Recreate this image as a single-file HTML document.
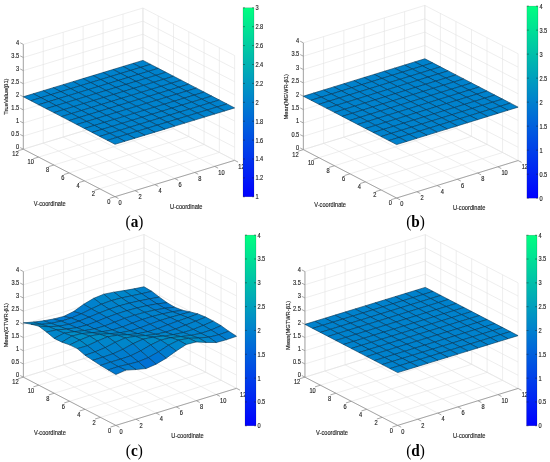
<!DOCTYPE html>
<html><head><meta charset="utf-8"><style>
html,body{margin:0;padding:0;background:#fff;}
svg{display:block;}
</style></head><body>
<svg width="550" height="462" viewBox="0 0 550 462">
<rect width="550" height="462" fill="#fff"/>
<path d="M115 196.7L23.32 149.18M23.32 149.18L23.32 44.38M134.94 190.64L43.26 143.12M43.26 143.12L43.26 38.32M154.88 184.58L63.2 137.06M63.2 137.06L63.2 32.26M174.82 178.52L83.14 131M83.14 131L83.14 26.2M194.76 172.46L103.08 124.94M103.08 124.94L103.08 20.14M214.7 166.4L123.02 118.88M123.02 118.88L123.02 14.08M234.64 160.34L142.96 112.82M142.96 112.82L142.96 8.02M115 196.7L234.64 160.34M234.64 160.34L234.64 55.54M99.72 188.78L219.36 152.42M219.36 152.42L219.36 47.62M84.44 180.86L204.08 144.5M204.08 144.5L204.08 39.7M69.16 172.94L188.8 136.58M188.8 136.58L188.8 31.78M53.88 165.02L173.52 128.66M173.52 128.66L173.52 23.86M38.6 157.1L158.24 120.74M158.24 120.74L158.24 15.94M23.32 149.18L142.96 112.82M142.96 112.82L142.96 8.02M23.32 149.18L142.96 112.82M142.96 112.82L234.64 160.34M23.32 136.08L142.96 99.72M142.96 99.72L234.64 147.24M23.32 122.98L142.96 86.62M142.96 86.62L234.64 134.14M23.32 109.88L142.96 73.52M142.96 73.52L234.64 121.04M23.32 96.78L142.96 60.42M142.96 60.42L234.64 107.94M23.32 83.68L142.96 47.32M142.96 47.32L234.64 94.84M23.32 70.58L142.96 34.22M142.96 34.22L234.64 81.74M23.32 57.48L142.96 21.12M142.96 21.12L234.64 68.64M23.32 44.38L142.96 8.02M142.96 8.02L234.64 55.54" stroke="#e3e3e3" stroke-width="0.6" fill="none"/>
<path d="M23.32 149.18L23.32 44.38M115 196.7L234.64 160.34M115 196.7L23.32 149.18M23.32 149.18L20.23 147.58M23.32 136.08L20.23 134.48M23.32 122.98L20.23 121.38M23.32 109.88L20.23 108.28M23.32 96.78L20.23 95.18M23.32 83.68L20.23 82.08M23.32 70.58L20.23 68.98M23.32 57.48L20.23 55.88M23.32 44.38L20.23 42.78M115 196.7L118.44 198.48M134.94 190.64L138.38 192.42M154.88 184.58L158.32 186.36M174.82 178.52L178.26 180.3M194.76 172.46L198.2 174.24M214.7 166.4L218.14 168.18M234.64 160.34L238.08 162.12M115 196.7L109.62 198.34M99.72 188.78L94.34 190.42M84.44 180.86L79.06 182.5M69.16 172.94L63.78 174.58M53.88 165.02L48.5 166.66M38.6 157.1L33.22 158.74M23.32 149.18L17.94 150.82" stroke="#8c8c8c" stroke-width="0.75" fill="none"/>
<g stroke="#023456" stroke-width="0.6" stroke-linejoin="round"><path d="M140.63 67.41L150.6 64.38L142.96 60.42L132.99 63.45 Z" fill="#0082cd"/><path d="M130.66 70.44L140.63 67.41L132.99 63.45L123.02 66.48 Z" fill="#0082cd"/><path d="M148.27 71.37L158.24 68.34L150.6 64.38L140.63 67.41 Z" fill="#0082cd"/><path d="M120.69 73.47L130.66 70.44L123.02 66.48L113.05 69.51 Z" fill="#0082cd"/><path d="M138.3 74.4L148.27 71.37L140.63 67.41L130.66 70.44 Z" fill="#0082cd"/><path d="M155.91 75.33L165.88 72.3L158.24 68.34L148.27 71.37 Z" fill="#0082cd"/><path d="M110.72 76.5L120.69 73.47L113.05 69.51L103.08 72.54 Z" fill="#0082cd"/><path d="M128.33 77.43L138.3 74.4L130.66 70.44L120.69 73.47 Z" fill="#0082cd"/><path d="M145.94 78.36L155.91 75.33L148.27 71.37L138.3 74.4 Z" fill="#0082cd"/><path d="M163.55 79.29L173.52 76.26L165.88 72.3L155.91 75.33 Z" fill="#0082cd"/><path d="M100.75 79.53L110.72 76.5L103.08 72.54L93.11 75.57 Z" fill="#0082cd"/><path d="M118.36 80.46L128.33 77.43L120.69 73.47L110.72 76.5 Z" fill="#0082cd"/><path d="M135.97 81.39L145.94 78.36L138.3 74.4L128.33 77.43 Z" fill="#0082cd"/><path d="M153.58 82.32L163.55 79.29L155.91 75.33L145.94 78.36 Z" fill="#0082cd"/><path d="M90.78 82.56L100.75 79.53L93.11 75.57L83.14 78.6 Z" fill="#0082cd"/><path d="M171.19 83.25L181.16 80.22L173.52 76.26L163.55 79.29 Z" fill="#0082cd"/><path d="M108.39 83.49L118.36 80.46L110.72 76.5L100.75 79.53 Z" fill="#0082cd"/><path d="M126 84.42L135.97 81.39L128.33 77.43L118.36 80.46 Z" fill="#0082cd"/><path d="M143.61 85.35L153.58 82.32L145.94 78.36L135.97 81.39 Z" fill="#0082cd"/><path d="M80.81 85.59L90.78 82.56L83.14 78.6L73.17 81.63 Z" fill="#0082cd"/><path d="M161.22 86.28L171.19 83.25L163.55 79.29L153.58 82.32 Z" fill="#0082cd"/><path d="M98.42 86.52L108.39 83.49L100.75 79.53L90.78 82.56 Z" fill="#0082cd"/><path d="M178.83 87.21L188.8 84.18L181.16 80.22L171.19 83.25 Z" fill="#0082cd"/><path d="M116.03 87.45L126 84.42L118.36 80.46L108.39 83.49 Z" fill="#0082cd"/><path d="M133.64 88.38L143.61 85.35L135.97 81.39L126 84.42 Z" fill="#0082cd"/><path d="M70.84 88.62L80.81 85.59L73.17 81.63L63.2 84.66 Z" fill="#0082cd"/><path d="M151.25 89.31L161.22 86.28L153.58 82.32L143.61 85.35 Z" fill="#0082cd"/><path d="M88.45 89.55L98.42 86.52L90.78 82.56L80.81 85.59 Z" fill="#0082cd"/><path d="M168.86 90.24L178.83 87.21L171.19 83.25L161.22 86.28 Z" fill="#0082cd"/><path d="M106.06 90.48L116.03 87.45L108.39 83.49L98.42 86.52 Z" fill="#0082cd"/><path d="M186.47 91.17L196.44 88.14L188.8 84.18L178.83 87.21 Z" fill="#0082cd"/><path d="M123.67 91.41L133.64 88.38L126 84.42L116.03 87.45 Z" fill="#0082cd"/><path d="M60.87 91.65L70.84 88.62L63.2 84.66L53.23 87.69 Z" fill="#0082cd"/><path d="M141.28 92.34L151.25 89.31L143.61 85.35L133.64 88.38 Z" fill="#0082cd"/><path d="M78.48 92.58L88.45 89.55L80.81 85.59L70.84 88.62 Z" fill="#0082cd"/><path d="M158.89 93.27L168.86 90.24L161.22 86.28L151.25 89.31 Z" fill="#0082cd"/><path d="M96.09 93.51L106.06 90.48L98.42 86.52L88.45 89.55 Z" fill="#0082cd"/><path d="M176.5 94.2L186.47 91.17L178.83 87.21L168.86 90.24 Z" fill="#0082cd"/><path d="M113.7 94.44L123.67 91.41L116.03 87.45L106.06 90.48 Z" fill="#0082cd"/><path d="M50.9 94.68L60.87 91.65L53.23 87.69L43.26 90.72 Z" fill="#0082cd"/><path d="M194.11 95.13L204.08 92.1L196.44 88.14L186.47 91.17 Z" fill="#0082cd"/><path d="M131.31 95.37L141.28 92.34L133.64 88.38L123.67 91.41 Z" fill="#0082cd"/><path d="M68.51 95.61L78.48 92.58L70.84 88.62L60.87 91.65 Z" fill="#0082cd"/><path d="M148.92 96.3L158.89 93.27L151.25 89.31L141.28 92.34 Z" fill="#0082cd"/><path d="M86.12 96.54L96.09 93.51L88.45 89.55L78.48 92.58 Z" fill="#0082cd"/><path d="M166.53 97.23L176.5 94.2L168.86 90.24L158.89 93.27 Z" fill="#0082cd"/><path d="M103.73 97.47L113.7 94.44L106.06 90.48L96.09 93.51 Z" fill="#0082cd"/><path d="M40.93 97.71L50.9 94.68L43.26 90.72L33.29 93.75 Z" fill="#0082cd"/><path d="M184.14 98.16L194.11 95.13L186.47 91.17L176.5 94.2 Z" fill="#0082cd"/><path d="M121.34 98.4L131.31 95.37L123.67 91.41L113.7 94.44 Z" fill="#0082cd"/><path d="M58.54 98.64L68.51 95.61L60.87 91.65L50.9 94.68 Z" fill="#0082cd"/><path d="M201.75 99.09L211.72 96.06L204.08 92.1L194.11 95.13 Z" fill="#0082cd"/><path d="M138.95 99.33L148.92 96.3L141.28 92.34L131.31 95.37 Z" fill="#0082cd"/><path d="M76.15 99.57L86.12 96.54L78.48 92.58L68.51 95.61 Z" fill="#0082cd"/><path d="M156.56 100.26L166.53 97.23L158.89 93.27L148.92 96.3 Z" fill="#0082cd"/><path d="M93.76 100.5L103.73 97.47L96.09 93.51L86.12 96.54 Z" fill="#0082cd"/><path d="M30.96 100.74L40.93 97.71L33.29 93.75L23.32 96.78 Z" fill="#0082cd"/><path d="M174.17 101.19L184.14 98.16L176.5 94.2L166.53 97.23 Z" fill="#0082cd"/><path d="M111.37 101.43L121.34 98.4L113.7 94.44L103.73 97.47 Z" fill="#0082cd"/><path d="M48.57 101.67L58.54 98.64L50.9 94.68L40.93 97.71 Z" fill="#0082cd"/><path d="M191.78 102.12L201.75 99.09L194.11 95.13L184.14 98.16 Z" fill="#0082cd"/><path d="M128.98 102.36L138.95 99.33L131.31 95.37L121.34 98.4 Z" fill="#0082cd"/><path d="M66.18 102.6L76.15 99.57L68.51 95.61L58.54 98.64 Z" fill="#0082cd"/><path d="M209.39 103.05L219.36 100.02L211.72 96.06L201.75 99.09 Z" fill="#0082cd"/><path d="M146.59 103.29L156.56 100.26L148.92 96.3L138.95 99.33 Z" fill="#0082cd"/><path d="M83.79 103.53L93.76 100.5L86.12 96.54L76.15 99.57 Z" fill="#0082cd"/><path d="M164.2 104.22L174.17 101.19L166.53 97.23L156.56 100.26 Z" fill="#0082cd"/><path d="M101.4 104.46L111.37 101.43L103.73 97.47L93.76 100.5 Z" fill="#0082cd"/><path d="M38.6 104.7L48.57 101.67L40.93 97.71L30.96 100.74 Z" fill="#0082cd"/><path d="M181.81 105.15L191.78 102.12L184.14 98.16L174.17 101.19 Z" fill="#0082cd"/><path d="M119.01 105.39L128.98 102.36L121.34 98.4L111.37 101.43 Z" fill="#0082cd"/><path d="M56.21 105.63L66.18 102.6L58.54 98.64L48.57 101.67 Z" fill="#0082cd"/><path d="M199.42 106.08L209.39 103.05L201.75 99.09L191.78 102.12 Z" fill="#0082cd"/><path d="M136.62 106.32L146.59 103.29L138.95 99.33L128.98 102.36 Z" fill="#0082cd"/><path d="M73.82 106.56L83.79 103.53L76.15 99.57L66.18 102.6 Z" fill="#0082cd"/><path d="M217.03 107.01L227 103.98L219.36 100.02L209.39 103.05 Z" fill="#0082cd"/><path d="M154.23 107.25L164.2 104.22L156.56 100.26L146.59 103.29 Z" fill="#0082cd"/><path d="M91.43 107.49L101.4 104.46L93.76 100.5L83.79 103.53 Z" fill="#0082cd"/><path d="M171.84 108.18L181.81 105.15L174.17 101.19L164.2 104.22 Z" fill="#0082cd"/><path d="M109.04 108.42L119.01 105.39L111.37 101.43L101.4 104.46 Z" fill="#0082cd"/><path d="M46.24 108.66L56.21 105.63L48.57 101.67L38.6 104.7 Z" fill="#0082cd"/><path d="M189.45 109.11L199.42 106.08L191.78 102.12L181.81 105.15 Z" fill="#0082cd"/><path d="M126.65 109.35L136.62 106.32L128.98 102.36L119.01 105.39 Z" fill="#0082cd"/><path d="M63.85 109.59L73.82 106.56L66.18 102.6L56.21 105.63 Z" fill="#0082cd"/><path d="M207.06 110.04L217.03 107.01L209.39 103.05L199.42 106.08 Z" fill="#0082cd"/><path d="M144.26 110.28L154.23 107.25L146.59 103.29L136.62 106.32 Z" fill="#0082cd"/><path d="M81.46 110.52L91.43 107.49L83.79 103.53L73.82 106.56 Z" fill="#0082cd"/><path d="M224.67 110.97L234.64 107.94L227 103.98L217.03 107.01 Z" fill="#0082cd"/><path d="M161.87 111.21L171.84 108.18L164.2 104.22L154.23 107.25 Z" fill="#0082cd"/><path d="M99.07 111.45L109.04 108.42L101.4 104.46L91.43 107.49 Z" fill="#0082cd"/><path d="M179.48 112.14L189.45 109.11L181.81 105.15L171.84 108.18 Z" fill="#0082cd"/><path d="M116.68 112.38L126.65 109.35L119.01 105.39L109.04 108.42 Z" fill="#0082cd"/><path d="M53.88 112.62L63.85 109.59L56.21 105.63L46.24 108.66 Z" fill="#0082cd"/><path d="M197.09 113.07L207.06 110.04L199.42 106.08L189.45 109.11 Z" fill="#0082cd"/><path d="M134.29 113.31L144.26 110.28L136.62 106.32L126.65 109.35 Z" fill="#0082cd"/><path d="M71.49 113.55L81.46 110.52L73.82 106.56L63.85 109.59 Z" fill="#0082cd"/><path d="M214.7 114L224.67 110.97L217.03 107.01L207.06 110.04 Z" fill="#0082cd"/><path d="M151.9 114.24L161.87 111.21L154.23 107.25L144.26 110.28 Z" fill="#0082cd"/><path d="M89.1 114.48L99.07 111.45L91.43 107.49L81.46 110.52 Z" fill="#0082cd"/><path d="M169.51 115.17L179.48 112.14L171.84 108.18L161.87 111.21 Z" fill="#0082cd"/><path d="M106.71 115.41L116.68 112.38L109.04 108.42L99.07 111.45 Z" fill="#0082cd"/><path d="M187.12 116.1L197.09 113.07L189.45 109.11L179.48 112.14 Z" fill="#0082cd"/><path d="M124.32 116.34L134.29 113.31L126.65 109.35L116.68 112.38 Z" fill="#0082cd"/><path d="M61.52 116.58L71.49 113.55L63.85 109.59L53.88 112.62 Z" fill="#0082cd"/><path d="M204.73 117.03L214.7 114L207.06 110.04L197.09 113.07 Z" fill="#0082cd"/><path d="M141.93 117.27L151.9 114.24L144.26 110.28L134.29 113.31 Z" fill="#0082cd"/><path d="M79.13 117.51L89.1 114.48L81.46 110.52L71.49 113.55 Z" fill="#0082cd"/><path d="M159.54 118.2L169.51 115.17L161.87 111.21L151.9 114.24 Z" fill="#0082cd"/><path d="M96.74 118.44L106.71 115.41L99.07 111.45L89.1 114.48 Z" fill="#0082cd"/><path d="M177.15 119.13L187.12 116.1L179.48 112.14L169.51 115.17 Z" fill="#0082cd"/><path d="M114.35 119.37L124.32 116.34L116.68 112.38L106.71 115.41 Z" fill="#0082cd"/><path d="M194.76 120.06L204.73 117.03L197.09 113.07L187.12 116.1 Z" fill="#0082cd"/><path d="M131.96 120.3L141.93 117.27L134.29 113.31L124.32 116.34 Z" fill="#0082cd"/><path d="M69.16 120.54L79.13 117.51L71.49 113.55L61.52 116.58 Z" fill="#0082cd"/><path d="M149.57 121.23L159.54 118.2L151.9 114.24L141.93 117.27 Z" fill="#0082cd"/><path d="M86.77 121.47L96.74 118.44L89.1 114.48L79.13 117.51 Z" fill="#0082cd"/><path d="M167.18 122.16L177.15 119.13L169.51 115.17L159.54 118.2 Z" fill="#0082cd"/><path d="M104.38 122.4L114.35 119.37L106.71 115.41L96.74 118.44 Z" fill="#0082cd"/><path d="M184.79 123.09L194.76 120.06L187.12 116.1L177.15 119.13 Z" fill="#0082cd"/><path d="M121.99 123.33L131.96 120.3L124.32 116.34L114.35 119.37 Z" fill="#0082cd"/><path d="M139.6 124.26L149.57 121.23L141.93 117.27L131.96 120.3 Z" fill="#0082cd"/><path d="M76.8 124.5L86.77 121.47L79.13 117.51L69.16 120.54 Z" fill="#0082cd"/><path d="M157.21 125.19L167.18 122.16L159.54 118.2L149.57 121.23 Z" fill="#0082cd"/><path d="M94.41 125.43L104.38 122.4L96.74 118.44L86.77 121.47 Z" fill="#0082cd"/><path d="M174.82 126.12L184.79 123.09L177.15 119.13L167.18 122.16 Z" fill="#0082cd"/><path d="M112.02 126.36L121.99 123.33L114.35 119.37L104.38 122.4 Z" fill="#0082cd"/><path d="M129.63 127.29L139.6 124.26L131.96 120.3L121.99 123.33 Z" fill="#0082cd"/><path d="M147.24 128.22L157.21 125.19L149.57 121.23L139.6 124.26 Z" fill="#0082cd"/><path d="M84.44 128.46L94.41 125.43L86.77 121.47L76.8 124.5 Z" fill="#0082cd"/><path d="M164.85 129.15L174.82 126.12L167.18 122.16L157.21 125.19 Z" fill="#0082cd"/><path d="M102.05 129.39L112.02 126.36L104.38 122.4L94.41 125.43 Z" fill="#0082cd"/><path d="M119.66 130.32L129.63 127.29L121.99 123.33L112.02 126.36 Z" fill="#0082cd"/><path d="M137.27 131.25L147.24 128.22L139.6 124.26L129.63 127.29 Z" fill="#0082cd"/><path d="M154.88 132.18L164.85 129.15L157.21 125.19L147.24 128.22 Z" fill="#0082cd"/><path d="M92.08 132.42L102.05 129.39L94.41 125.43L84.44 128.46 Z" fill="#0082cd"/><path d="M109.69 133.35L119.66 130.32L112.02 126.36L102.05 129.39 Z" fill="#0082cd"/><path d="M127.3 134.28L137.27 131.25L129.63 127.29L119.66 130.32 Z" fill="#0082cd"/><path d="M144.91 135.21L154.88 132.18L147.24 128.22L137.27 131.25 Z" fill="#0082cd"/><path d="M99.72 136.38L109.69 133.35L102.05 129.39L92.08 132.42 Z" fill="#0082cd"/><path d="M117.33 137.31L127.3 134.28L119.66 130.32L109.69 133.35 Z" fill="#0082cd"/><path d="M134.94 138.24L144.91 135.21L137.27 131.25L127.3 134.28 Z" fill="#0082cd"/><path d="M107.36 140.34L117.33 137.31L109.69 133.35L99.72 136.38 Z" fill="#0082cd"/><path d="M124.97 141.27L134.94 138.24L127.3 134.28L117.33 137.31 Z" fill="#0082cd"/><path d="M115 144.3L124.97 141.27L117.33 137.31L107.36 140.34 Z" fill="#0082cd"/></g>
<g font-family='"Liberation Sans", Arial, sans-serif' font-size="6.3" fill="#262626" stroke="#262626" stroke-width="0.15"><text transform="translate(19.22 149.48) scale(0.9 1)" text-anchor="end">0</text><text transform="translate(19.22 136.38) scale(0.9 1)" text-anchor="end">0.5</text><text transform="translate(19.22 123.28) scale(0.9 1)" text-anchor="end">1</text><text transform="translate(19.22 110.18) scale(0.9 1)" text-anchor="end">1.5</text><text transform="translate(19.22 97.08) scale(0.9 1)" text-anchor="end">2</text><text transform="translate(19.22 83.98) scale(0.9 1)" text-anchor="end">2.5</text><text transform="translate(19.22 70.88) scale(0.9 1)" text-anchor="end">3</text><text transform="translate(19.22 57.78) scale(0.9 1)" text-anchor="end">3.5</text><text transform="translate(19.22 44.68) scale(0.9 1)" text-anchor="end">4</text><text transform="translate(118.6 205) scale(0.9 1)">0</text><text transform="translate(138.54 198.94) scale(0.9 1)">2</text><text transform="translate(158.48 192.88) scale(0.9 1)">4</text><text transform="translate(178.42 186.82) scale(0.9 1)">6</text><text transform="translate(198.36 180.76) scale(0.9 1)">8</text><text transform="translate(218.3 174.7) scale(0.9 1)">10</text><text transform="translate(238.24 168.64) scale(0.9 1)">12</text><text transform="translate(110.3 204) scale(0.9 1)" text-anchor="end">0</text><text transform="translate(95.02 196.08) scale(0.9 1)" text-anchor="end">2</text><text transform="translate(79.74 188.16) scale(0.9 1)" text-anchor="end">4</text><text transform="translate(64.46 180.24) scale(0.9 1)" text-anchor="end">6</text><text transform="translate(49.18 172.32) scale(0.9 1)" text-anchor="end">8</text><text transform="translate(33.9 164.4) scale(0.9 1)" text-anchor="end">10</text><text transform="translate(18.62 156.48) scale(0.9 1)" text-anchor="end">12</text><text transform="translate(49.75 205.6) scale(0.9 1)" text-anchor="middle">V-coordinate</text><text transform="translate(186.3 208.75) scale(0.9 1)" text-anchor="middle">U-coordinate</text><text transform="translate(7.9 96.6) rotate(-90)" font-size="5.75" text-anchor="middle">TrueValue(β1)</text></g>
<defs><linearGradient id="g139823481912304" x1="0" y1="1" x2="0" y2="0"><stop offset="0" stop-color="#0000ff"/><stop offset="0.1" stop-color="#001af7"/><stop offset="0.2" stop-color="#0033ee"/><stop offset="0.3" stop-color="#004ce5"/><stop offset="0.4" stop-color="#0066da"/><stop offset="0.5" stop-color="#0080ce"/><stop offset="0.6" stop-color="#0099c1"/><stop offset="0.7" stop-color="#00b2b2"/><stop offset="0.8" stop-color="#00cca2"/><stop offset="0.9" stop-color="#00e691"/><stop offset="1" stop-color="#00ff80"/></linearGradient></defs>
<rect x="243" y="7.8" width="11" height="189" fill="url(#g139823481912304)" stroke="#000" stroke-opacity="0.25" stroke-width="0.5"/>
<path d="M243 196.8h2M254 196.8h-2M243 177.9h2M254 177.9h-2M243 159h2M254 159h-2M243 140.1h2M254 140.1h-2M243 121.2h2M254 121.2h-2M243 102.3h2M254 102.3h-2M243 83.4h2M254 83.4h-2M243 64.5h2M254 64.5h-2M243 45.6h2M254 45.6h-2M243 26.7h2M254 26.7h-2M243 7.8h2M254 7.8h-2" stroke="#1a1a1a" stroke-width="0.55" fill="none" opacity="0.75"/>
<g font-family='"Liberation Sans", Arial, sans-serif' font-size="6.3" fill="#262626" stroke="#262626" stroke-width="0.15"><text transform="translate(255.4 199.2) scale(0.9 1)">1</text><text transform="translate(255.4 180.3) scale(0.9 1)">1.2</text><text transform="translate(255.4 161.4) scale(0.9 1)">1.4</text><text transform="translate(255.4 142.5) scale(0.9 1)">1.6</text><text transform="translate(255.4 123.6) scale(0.9 1)">1.8</text><text transform="translate(255.4 104.7) scale(0.9 1)">2</text><text transform="translate(255.4 85.8) scale(0.9 1)">2.2</text><text transform="translate(255.4 66.9) scale(0.9 1)">2.4</text><text transform="translate(255.4 48) scale(0.9 1)">2.6</text><text transform="translate(255.4 29.1) scale(0.9 1)">2.8</text><text transform="translate(255.4 10.2) scale(0.9 1)">3</text></g>
<text transform="translate(134.5 227.4) scale(1.02 1.07)" font-family='"Liberation Serif", serif' font-size="15" fill="#000" text-anchor="middle">(<tspan font-weight="bold">a</tspan>)</text>
<path d="M396.6 198L303.36 149.64M303.36 149.64L303.36 42.84M416.85 191.76L323.61 143.4M323.61 143.4L323.61 36.6M437.1 185.52L343.86 137.16M343.86 137.16L343.86 30.36M457.35 179.28L364.11 130.92M364.11 130.92L364.11 24.12M477.6 173.04L384.36 124.68M384.36 124.68L384.36 17.88M497.85 166.8L404.61 118.44M404.61 118.44L404.61 11.64M518.1 160.56L424.86 112.2M424.86 112.2L424.86 5.4M396.6 198L518.1 160.56M518.1 160.56L518.1 53.76M381.06 189.94L502.56 152.5M502.56 152.5L502.56 45.7M365.52 181.88L487.02 144.44M487.02 144.44L487.02 37.64M349.98 173.82L471.48 136.38M471.48 136.38L471.48 29.58M334.44 165.76L455.94 128.32M455.94 128.32L455.94 21.52M318.9 157.7L440.4 120.26M440.4 120.26L440.4 13.46M303.36 149.64L424.86 112.2M424.86 112.2L424.86 5.4M303.36 149.64L424.86 112.2M424.86 112.2L518.1 160.56M303.36 136.29L424.86 98.85M424.86 98.85L518.1 147.21M303.36 122.94L424.86 85.5M424.86 85.5L518.1 133.86M303.36 109.59L424.86 72.15M424.86 72.15L518.1 120.51M303.36 96.24L424.86 58.8M424.86 58.8L518.1 107.16M303.36 82.89L424.86 45.45M424.86 45.45L518.1 93.81M303.36 69.54L424.86 32.1M424.86 32.1L518.1 80.46M303.36 56.19L424.86 18.75M424.86 18.75L518.1 67.11M303.36 42.84L424.86 5.4M424.86 5.4L518.1 53.76" stroke="#e3e3e3" stroke-width="0.6" fill="none"/>
<path d="M303.36 149.64L303.36 42.84M396.6 198L518.1 160.56M396.6 198L303.36 149.64M303.36 149.64L300.21 148.01M303.36 136.29L300.21 134.66M303.36 122.94L300.21 121.31M303.36 109.59L300.21 107.96M303.36 96.24L300.21 94.61M303.36 82.89L300.21 81.26M303.36 69.54L300.21 67.91M303.36 56.19L300.21 54.56M303.36 42.84L300.21 41.21M396.6 198L400.1 199.81M416.85 191.76L420.35 193.57M437.1 185.52L440.6 187.33M457.35 179.28L460.85 181.09M477.6 173.04L481.1 174.85M497.85 166.8L501.35 168.61M518.1 160.56L521.6 162.37M396.6 198L391.13 199.68M381.06 189.94L375.59 191.62M365.52 181.88L360.05 183.56M349.98 173.82L344.51 175.5M334.44 165.76L328.97 167.44M318.9 157.7L313.43 159.38M303.36 149.64L297.89 151.32" stroke="#8c8c8c" stroke-width="0.75" fill="none"/>
<g stroke="#023456" stroke-width="0.6" stroke-linejoin="round"><path d="M422.5 65.95L432.63 62.83L424.86 58.8L414.74 61.92 Z" fill="#0082cd"/><path d="M412.38 69.07L422.5 65.95L414.74 61.92L404.61 65.04 Z" fill="#0082cd"/><path d="M430.28 69.98L440.4 66.86L432.63 62.83L422.5 65.95 Z" fill="#0082cd"/><path d="M402.25 72.19L412.38 69.07L404.61 65.04L394.49 68.16 Z" fill="#0082cd"/><path d="M420.15 73.1L430.28 69.98L422.5 65.95L412.38 69.07 Z" fill="#0082cd"/><path d="M438.05 74.01L448.17 70.89L440.4 66.86L430.28 69.98 Z" fill="#0082cd"/><path d="M392.13 75.31L402.25 72.19L394.49 68.16L384.36 71.28 Z" fill="#0082cd"/><path d="M410.03 76.22L420.15 73.1L412.38 69.07L402.25 72.19 Z" fill="#0082cd"/><path d="M427.92 77.13L438.05 74.01L430.28 69.98L420.15 73.1 Z" fill="#0082cd"/><path d="M445.82 78.04L455.94 74.92L448.17 70.89L438.05 74.01 Z" fill="#0082cd"/><path d="M382 78.43L392.13 75.31L384.36 71.28L374.24 74.4 Z" fill="#0082cd"/><path d="M399.9 79.34L410.03 76.22L402.25 72.19L392.13 75.31 Z" fill="#0082cd"/><path d="M417.8 80.25L427.92 77.13L420.15 73.1L410.03 76.22 Z" fill="#0082cd"/><path d="M435.69 81.16L445.82 78.04L438.05 74.01L427.92 77.13 Z" fill="#0082cd"/><path d="M371.88 81.55L382 78.43L374.24 74.4L364.11 77.52 Z" fill="#0082cd"/><path d="M453.59 82.07L463.71 78.95L455.94 74.92L445.82 78.04 Z" fill="#0082cd"/><path d="M389.78 82.46L399.9 79.34L392.13 75.31L382 78.43 Z" fill="#0082cd"/><path d="M407.67 83.37L417.8 80.25L410.03 76.22L399.9 79.34 Z" fill="#0082cd"/><path d="M425.57 84.28L435.69 81.16L427.92 77.13L417.8 80.25 Z" fill="#0082cd"/><path d="M361.75 84.67L371.88 81.55L364.11 77.52L353.99 80.64 Z" fill="#0082cd"/><path d="M443.46 85.19L453.59 82.07L445.82 78.04L435.69 81.16 Z" fill="#0082cd"/><path d="M379.65 85.58L389.78 82.46L382 78.43L371.88 81.55 Z" fill="#0082cd"/><path d="M461.36 86.1L471.48 82.98L463.71 78.95L453.59 82.07 Z" fill="#0082cd"/><path d="M397.55 86.49L407.67 83.37L399.9 79.34L389.78 82.46 Z" fill="#0082cd"/><path d="M415.44 87.4L425.57 84.28L417.8 80.25L407.67 83.37 Z" fill="#0082cd"/><path d="M351.63 87.79L361.75 84.67L353.99 80.64L343.86 83.76 Z" fill="#0082cd"/><path d="M433.34 88.31L443.46 85.19L435.69 81.16L425.57 84.28 Z" fill="#0082cd"/><path d="M369.53 88.7L379.65 85.58L371.88 81.55L361.75 84.67 Z" fill="#0082cd"/><path d="M451.23 89.22L461.36 86.1L453.59 82.07L443.46 85.19 Z" fill="#0082cd"/><path d="M387.42 89.61L397.55 86.49L389.78 82.46L379.65 85.58 Z" fill="#0082cd"/><path d="M469.12 90.13L479.25 87.01L471.48 82.98L461.36 86.1 Z" fill="#0082cd"/><path d="M405.32 90.52L415.44 87.4L407.67 83.37L397.55 86.49 Z" fill="#0082cd"/><path d="M341.5 90.91L351.63 87.79L343.86 83.76L333.74 86.88 Z" fill="#0082cd"/><path d="M423.21 91.43L433.34 88.31L425.57 84.28L415.44 87.4 Z" fill="#0082cd"/><path d="M359.4 91.82L369.53 88.7L361.75 84.67L351.63 87.79 Z" fill="#0082cd"/><path d="M441.11 92.34L451.23 89.22L443.46 85.19L433.34 88.31 Z" fill="#0082cd"/><path d="M377.3 92.73L387.42 89.61L379.65 85.58L369.53 88.7 Z" fill="#0082cd"/><path d="M459 93.25L469.12 90.13L461.36 86.1L451.23 89.22 Z" fill="#0082cd"/><path d="M395.19 93.64L405.32 90.52L397.55 86.49L387.42 89.61 Z" fill="#0082cd"/><path d="M331.38 94.03L341.5 90.91L333.74 86.88L323.61 90 Z" fill="#0082cd"/><path d="M476.9 94.16L487.02 91.04L479.25 87.01L469.12 90.13 Z" fill="#0082cd"/><path d="M413.09 94.55L423.21 91.43L415.44 87.4L405.32 90.52 Z" fill="#0082cd"/><path d="M349.28 94.94L359.4 91.82L351.63 87.79L341.5 90.91 Z" fill="#0082cd"/><path d="M430.98 95.46L441.11 92.34L433.34 88.31L423.21 91.43 Z" fill="#0082cd"/><path d="M367.17 95.85L377.3 92.73L369.53 88.7L359.4 91.82 Z" fill="#0082cd"/><path d="M448.88 96.37L459 93.25L451.23 89.22L441.11 92.34 Z" fill="#0082cd"/><path d="M385.07 96.76L395.19 93.64L387.42 89.61L377.3 92.73 Z" fill="#0082cd"/><path d="M321.25 97.15L331.38 94.03L323.61 90L313.49 93.12 Z" fill="#0082cd"/><path d="M466.77 97.28L476.9 94.16L469.12 90.13L459 93.25 Z" fill="#0082cd"/><path d="M402.96 97.67L413.09 94.55L405.32 90.52L395.19 93.64 Z" fill="#0082cd"/><path d="M339.15 98.06L349.28 94.94L341.5 90.91L331.38 94.03 Z" fill="#0082cd"/><path d="M484.67 98.19L494.79 95.07L487.02 91.04L476.9 94.16 Z" fill="#0082cd"/><path d="M420.86 98.58L430.98 95.46L423.21 91.43L413.09 94.55 Z" fill="#0082cd"/><path d="M357.05 98.97L367.17 95.85L359.4 91.82L349.28 94.94 Z" fill="#0082cd"/><path d="M438.75 99.49L448.88 96.37L441.11 92.34L430.98 95.46 Z" fill="#0082cd"/><path d="M374.94 99.88L385.07 96.76L377.3 92.73L367.17 95.85 Z" fill="#0082cd"/><path d="M311.13 100.27L321.25 97.15L313.49 93.12L303.36 96.24 Z" fill="#0082cd"/><path d="M456.65 100.4L466.77 97.28L459 93.25L448.88 96.37 Z" fill="#0082cd"/><path d="M392.84 100.79L402.96 97.67L395.19 93.64L385.07 96.76 Z" fill="#0082cd"/><path d="M329.03 101.18L339.15 98.06L331.38 94.03L321.25 97.15 Z" fill="#0082cd"/><path d="M474.54 101.31L484.67 98.19L476.9 94.16L466.77 97.28 Z" fill="#0082cd"/><path d="M410.73 101.7L420.86 98.58L413.09 94.55L402.96 97.67 Z" fill="#0082cd"/><path d="M346.92 102.09L357.05 98.97L349.28 94.94L339.15 98.06 Z" fill="#0082cd"/><path d="M492.44 102.22L502.56 99.1L494.79 95.07L484.67 98.19 Z" fill="#0082cd"/><path d="M428.62 102.61L438.75 99.49L430.98 95.46L420.86 98.58 Z" fill="#0082cd"/><path d="M364.82 103L374.94 99.88L367.17 95.85L357.05 98.97 Z" fill="#0082cd"/><path d="M446.52 103.52L456.65 100.4L448.88 96.37L438.75 99.49 Z" fill="#0082cd"/><path d="M382.71 103.91L392.84 100.79L385.07 96.76L374.94 99.88 Z" fill="#0082cd"/><path d="M318.9 104.3L329.03 101.18L321.25 97.15L311.13 100.27 Z" fill="#0082cd"/><path d="M464.42 104.43L474.54 101.31L466.77 97.28L456.65 100.4 Z" fill="#0082cd"/><path d="M400.61 104.82L410.73 101.7L402.96 97.67L392.84 100.79 Z" fill="#0082cd"/><path d="M336.8 105.21L346.92 102.09L339.15 98.06L329.03 101.18 Z" fill="#0082cd"/><path d="M482.31 105.34L492.44 102.22L484.67 98.19L474.54 101.31 Z" fill="#0082cd"/><path d="M418.5 105.73L428.62 102.61L420.86 98.58L410.73 101.7 Z" fill="#0082cd"/><path d="M354.69 106.12L364.82 103L357.05 98.97L346.92 102.09 Z" fill="#0082cd"/><path d="M500.21 106.25L510.33 103.13L502.56 99.1L492.44 102.22 Z" fill="#0082cd"/><path d="M436.4 106.64L446.52 103.52L438.75 99.49L428.62 102.61 Z" fill="#0082cd"/><path d="M372.59 107.03L382.71 103.91L374.94 99.88L364.82 103 Z" fill="#0082cd"/><path d="M454.29 107.55L464.42 104.43L456.65 100.4L446.52 103.52 Z" fill="#0082cd"/><path d="M390.48 107.94L400.61 104.82L392.84 100.79L382.71 103.91 Z" fill="#0082cd"/><path d="M326.67 108.33L336.8 105.21L329.03 101.18L318.9 104.3 Z" fill="#0082cd"/><path d="M472.19 108.46L482.31 105.34L474.54 101.31L464.42 104.43 Z" fill="#0082cd"/><path d="M408.38 108.85L418.5 105.73L410.73 101.7L400.61 104.82 Z" fill="#0082cd"/><path d="M344.57 109.24L354.69 106.12L346.92 102.09L336.8 105.21 Z" fill="#0082cd"/><path d="M490.08 109.37L500.21 106.25L492.44 102.22L482.31 105.34 Z" fill="#0082cd"/><path d="M426.27 109.76L436.4 106.64L428.62 102.61L418.5 105.73 Z" fill="#0082cd"/><path d="M362.46 110.15L372.59 107.03L364.82 103L354.69 106.12 Z" fill="#0082cd"/><path d="M507.98 110.28L518.1 107.16L510.33 103.13L500.21 106.25 Z" fill="#0082cd"/><path d="M444.17 110.67L454.29 107.55L446.52 103.52L436.4 106.64 Z" fill="#0082cd"/><path d="M380.36 111.06L390.48 107.94L382.71 103.91L372.59 107.03 Z" fill="#0082cd"/><path d="M462.06 111.58L472.19 108.46L464.42 104.43L454.29 107.55 Z" fill="#0082cd"/><path d="M398.25 111.97L408.38 108.85L400.61 104.82L390.48 107.94 Z" fill="#0082cd"/><path d="M334.44 112.36L344.57 109.24L336.8 105.21L326.67 108.33 Z" fill="#0082cd"/><path d="M479.96 112.49L490.08 109.37L482.31 105.34L472.19 108.46 Z" fill="#0082cd"/><path d="M416.15 112.88L426.27 109.76L418.5 105.73L408.38 108.85 Z" fill="#0082cd"/><path d="M352.34 113.27L362.46 110.15L354.69 106.12L344.57 109.24 Z" fill="#0082cd"/><path d="M497.85 113.4L507.98 110.28L500.21 106.25L490.08 109.37 Z" fill="#0082cd"/><path d="M434.04 113.79L444.17 110.67L436.4 106.64L426.27 109.76 Z" fill="#0082cd"/><path d="M370.23 114.18L380.36 111.06L372.59 107.03L362.46 110.15 Z" fill="#0082cd"/><path d="M451.94 114.7L462.06 111.58L454.29 107.55L444.17 110.67 Z" fill="#0082cd"/><path d="M388.12 115.09L398.25 111.97L390.48 107.94L380.36 111.06 Z" fill="#0082cd"/><path d="M469.83 115.61L479.96 112.49L472.19 108.46L462.06 111.58 Z" fill="#0082cd"/><path d="M406.02 116L416.15 112.88L408.38 108.85L398.25 111.97 Z" fill="#0082cd"/><path d="M342.21 116.39L352.34 113.27L344.57 109.24L334.44 112.36 Z" fill="#0082cd"/><path d="M487.73 116.52L497.85 113.4L490.08 109.37L479.96 112.49 Z" fill="#0082cd"/><path d="M423.92 116.91L434.04 113.79L426.27 109.76L416.15 112.88 Z" fill="#0082cd"/><path d="M360.11 117.3L370.23 114.18L362.46 110.15L352.34 113.27 Z" fill="#0082cd"/><path d="M441.81 117.82L451.94 114.7L444.17 110.67L434.04 113.79 Z" fill="#0082cd"/><path d="M378 118.21L388.12 115.09L380.36 111.06L370.23 114.18 Z" fill="#0082cd"/><path d="M459.71 118.73L469.83 115.61L462.06 111.58L451.94 114.7 Z" fill="#0082cd"/><path d="M395.9 119.12L406.02 116L398.25 111.97L388.12 115.09 Z" fill="#0082cd"/><path d="M477.6 119.64L487.73 116.52L479.96 112.49L469.83 115.61 Z" fill="#0082cd"/><path d="M413.79 120.03L423.92 116.91L416.15 112.88L406.02 116 Z" fill="#0082cd"/><path d="M349.98 120.42L360.11 117.3L352.34 113.27L342.21 116.39 Z" fill="#0082cd"/><path d="M431.69 120.94L441.81 117.82L434.04 113.79L423.92 116.91 Z" fill="#0082cd"/><path d="M367.88 121.33L378 118.21L370.23 114.18L360.11 117.3 Z" fill="#0082cd"/><path d="M449.58 121.85L459.71 118.73L451.94 114.7L441.81 117.82 Z" fill="#0082cd"/><path d="M385.77 122.24L395.9 119.12L388.12 115.09L378 118.21 Z" fill="#0082cd"/><path d="M467.48 122.76L477.6 119.64L469.83 115.61L459.71 118.73 Z" fill="#0082cd"/><path d="M403.67 123.15L413.79 120.03L406.02 116L395.9 119.12 Z" fill="#0082cd"/><path d="M421.56 124.06L431.69 120.94L423.92 116.91L413.79 120.03 Z" fill="#0082cd"/><path d="M357.75 124.45L367.88 121.33L360.11 117.3L349.98 120.42 Z" fill="#0082cd"/><path d="M439.46 124.97L449.58 121.85L441.81 117.82L431.69 120.94 Z" fill="#0082cd"/><path d="M375.65 125.36L385.77 122.24L378 118.21L367.88 121.33 Z" fill="#0082cd"/><path d="M457.35 125.88L467.48 122.76L459.71 118.73L449.58 121.85 Z" fill="#0082cd"/><path d="M393.54 126.27L403.67 123.15L395.9 119.12L385.77 122.24 Z" fill="#0082cd"/><path d="M411.44 127.18L421.56 124.06L413.79 120.03L403.67 123.15 Z" fill="#0082cd"/><path d="M429.33 128.09L439.46 124.97L431.69 120.94L421.56 124.06 Z" fill="#0082cd"/><path d="M365.52 128.48L375.65 125.36L367.88 121.33L357.75 124.45 Z" fill="#0082cd"/><path d="M447.23 129L457.35 125.88L449.58 121.85L439.46 124.97 Z" fill="#0082cd"/><path d="M383.42 129.39L393.54 126.27L385.77 122.24L375.65 125.36 Z" fill="#0082cd"/><path d="M401.31 130.3L411.44 127.18L403.67 123.15L393.54 126.27 Z" fill="#0082cd"/><path d="M419.21 131.21L429.33 128.09L421.56 124.06L411.44 127.18 Z" fill="#0082cd"/><path d="M437.1 132.12L447.23 129L439.46 124.97L429.33 128.09 Z" fill="#0082cd"/><path d="M373.29 132.51L383.42 129.39L375.65 125.36L365.52 128.48 Z" fill="#0082cd"/><path d="M391.19 133.42L401.31 130.3L393.54 126.27L383.42 129.39 Z" fill="#0082cd"/><path d="M409.08 134.33L419.21 131.21L411.44 127.18L401.31 130.3 Z" fill="#0082cd"/><path d="M426.98 135.24L437.1 132.12L429.33 128.09L419.21 131.21 Z" fill="#0082cd"/><path d="M381.06 136.54L391.19 133.42L383.42 129.39L373.29 132.51 Z" fill="#0082cd"/><path d="M398.96 137.45L409.08 134.33L401.31 130.3L391.19 133.42 Z" fill="#0082cd"/><path d="M416.85 138.36L426.98 135.24L419.21 131.21L409.08 134.33 Z" fill="#0082cd"/><path d="M388.83 140.57L398.96 137.45L391.19 133.42L381.06 136.54 Z" fill="#0082cd"/><path d="M406.73 141.48L416.85 138.36L409.08 134.33L398.96 137.45 Z" fill="#0082cd"/><path d="M396.6 144.6L406.73 141.48L398.96 137.45L388.83 140.57 Z" fill="#0082cd"/></g>
<g font-family='"Liberation Sans", Arial, sans-serif' font-size="6.3" fill="#262626" stroke="#262626" stroke-width="0.15"><text transform="translate(299.26 149.94) scale(0.9 1)" text-anchor="end">0</text><text transform="translate(299.26 136.59) scale(0.9 1)" text-anchor="end">0.5</text><text transform="translate(299.26 123.24) scale(0.9 1)" text-anchor="end">1</text><text transform="translate(299.26 109.89) scale(0.9 1)" text-anchor="end">1.5</text><text transform="translate(299.26 96.54) scale(0.9 1)" text-anchor="end">2</text><text transform="translate(299.26 83.19) scale(0.9 1)" text-anchor="end">2.5</text><text transform="translate(299.26 69.84) scale(0.9 1)" text-anchor="end">3</text><text transform="translate(299.26 56.49) scale(0.9 1)" text-anchor="end">3.5</text><text transform="translate(299.26 43.14) scale(0.9 1)" text-anchor="end">4</text><text transform="translate(400.2 206.3) scale(0.9 1)">0</text><text transform="translate(420.45 200.06) scale(0.9 1)">2</text><text transform="translate(440.7 193.82) scale(0.9 1)">4</text><text transform="translate(460.95 187.58) scale(0.9 1)">6</text><text transform="translate(481.2 181.34) scale(0.9 1)">8</text><text transform="translate(501.45 175.1) scale(0.9 1)">10</text><text transform="translate(521.7 168.86) scale(0.9 1)">12</text><text transform="translate(391.9 205.3) scale(0.9 1)" text-anchor="end">0</text><text transform="translate(376.36 197.24) scale(0.9 1)" text-anchor="end">2</text><text transform="translate(360.82 189.18) scale(0.9 1)" text-anchor="end">4</text><text transform="translate(345.28 181.12) scale(0.9 1)" text-anchor="end">6</text><text transform="translate(329.74 173.06) scale(0.9 1)" text-anchor="end">8</text><text transform="translate(314.2 165) scale(0.9 1)" text-anchor="end">10</text><text transform="translate(298.66 156.94) scale(0.9 1)" text-anchor="end">12</text><text transform="translate(330.1 207.15) scale(0.9 1)" text-anchor="middle">V-coordinate</text><text transform="translate(469.1 209.95) scale(0.9 1)" text-anchor="middle">U-coordinate</text><text transform="translate(288 96.8) rotate(-90)" font-size="5.75" text-anchor="middle">Mean(MGWR-β1)</text></g>
<defs><linearGradient id="g139823473568912" x1="0" y1="1" x2="0" y2="0"><stop offset="0" stop-color="#0000ff"/><stop offset="0.1" stop-color="#001af7"/><stop offset="0.2" stop-color="#0033ee"/><stop offset="0.3" stop-color="#004ce5"/><stop offset="0.4" stop-color="#0066da"/><stop offset="0.5" stop-color="#0080ce"/><stop offset="0.6" stop-color="#0099c1"/><stop offset="0.7" stop-color="#00b2b2"/><stop offset="0.8" stop-color="#00cca2"/><stop offset="0.9" stop-color="#00e691"/><stop offset="1" stop-color="#00ff80"/></linearGradient></defs>
<rect x="526.9" y="6.1" width="11.1" height="192.1" fill="url(#g139823473568912)" stroke="#000" stroke-opacity="0.25" stroke-width="0.5"/>
<path d="M526.9 198.2h2M538 198.2h-2M526.9 174.19h2M538 174.19h-2M526.9 150.17h2M538 150.17h-2M526.9 126.16h2M538 126.16h-2M526.9 102.15h2M538 102.15h-2M526.9 78.14h2M538 78.14h-2M526.9 54.12h2M538 54.12h-2M526.9 30.11h2M538 30.11h-2M526.9 6.1h2M538 6.1h-2" stroke="#1a1a1a" stroke-width="0.55" fill="none" opacity="0.75"/>
<g font-family='"Liberation Sans", Arial, sans-serif' font-size="6.3" fill="#262626" stroke="#262626" stroke-width="0.15"><text transform="translate(539.4 200.6) scale(0.9 1)">0</text><text transform="translate(539.4 176.59) scale(0.9 1)">0.5</text><text transform="translate(539.4 152.57) scale(0.9 1)">1</text><text transform="translate(539.4 128.56) scale(0.9 1)">1.5</text><text transform="translate(539.4 104.55) scale(0.9 1)">2</text><text transform="translate(539.4 80.54) scale(0.9 1)">2.5</text><text transform="translate(539.4 56.52) scale(0.9 1)">3</text><text transform="translate(539.4 32.51) scale(0.9 1)">3.5</text><text transform="translate(539.4 8.5) scale(0.9 1)">4</text></g>
<text transform="translate(415.5 227.4) scale(1.02 1.07)" font-family='"Liberation Serif", serif' font-size="15" fill="#000" text-anchor="middle">(<tspan font-weight="bold">b</tspan>)</text>
<path d="M115.9 425.4L23.38 377.16M23.38 377.16L23.38 271.56M136 419.22L43.48 370.98M43.48 370.98L43.48 265.38M156.1 413.04L63.58 364.8M63.58 364.8L63.58 259.2M176.2 406.86L83.68 358.62M83.68 358.62L83.68 253.02M196.3 400.68L103.78 352.44M103.78 352.44L103.78 246.84M216.4 394.5L123.88 346.26M123.88 346.26L123.88 240.66M236.5 388.32L143.98 340.08M143.98 340.08L143.98 234.48M115.9 425.4L236.5 388.32M236.5 388.32L236.5 282.72M100.48 417.36L221.08 380.28M221.08 380.28L221.08 274.68M85.06 409.32L205.66 372.24M205.66 372.24L205.66 266.64M69.64 401.28L190.24 364.2M190.24 364.2L190.24 258.6M54.22 393.24L174.82 356.16M174.82 356.16L174.82 250.56M38.8 385.2L159.4 348.12M159.4 348.12L159.4 242.52M23.38 377.16L143.98 340.08M143.98 340.08L143.98 234.48M23.38 377.16L143.98 340.08M143.98 340.08L236.5 388.32M23.38 363.96L143.98 326.88M143.98 326.88L236.5 375.12M23.38 350.76L143.98 313.68M143.98 313.68L236.5 361.92M23.38 337.56L143.98 300.48M143.98 300.48L236.5 348.72M23.38 324.36L143.98 287.28M143.98 287.28L236.5 335.52M23.38 311.16L143.98 274.08M143.98 274.08L236.5 322.32M23.38 297.96L143.98 260.88M143.98 260.88L236.5 309.12M23.38 284.76L143.98 247.68M143.98 247.68L236.5 295.92M23.38 271.56L143.98 234.48M143.98 234.48L236.5 282.72" stroke="#e3e3e3" stroke-width="0.6" fill="none"/>
<path d="M23.38 377.16L23.38 271.56M115.9 425.4L236.5 388.32M115.9 425.4L23.38 377.16M23.38 377.16L20.26 375.53M23.38 363.96L20.26 362.33M23.38 350.76L20.26 349.13M23.38 337.56L20.26 335.93M23.38 324.36L20.26 322.73M23.38 311.16L20.26 309.53M23.38 297.96L20.26 296.33M23.38 284.76L20.26 283.13M23.38 271.56L20.26 269.93M115.9 425.4L119.37 427.21M136 419.22L139.47 421.03M156.1 413.04L159.57 414.85M176.2 406.86L179.67 408.67M196.3 400.68L199.77 402.49M216.4 394.5L219.87 396.31M236.5 388.32L239.97 390.13M115.9 425.4L110.47 427.07M100.48 417.36L95.05 419.03M85.06 409.32L79.63 410.99M69.64 401.28L64.21 402.95M54.22 393.24L48.79 394.91M38.8 385.2L33.37 386.87M23.38 377.16L17.95 378.83" stroke="#8c8c8c" stroke-width="0.75" fill="none"/>
<g stroke="#023456" stroke-width="0.6" stroke-linejoin="round"><path d="M141.64 293.71L151.69 291.32L143.98 286.78L133.93 288.83 Z" fill="#0082cd"/><path d="M131.59 295.79L141.64 293.71L133.93 288.83L123.88 290.62 Z" fill="#0086cb"/><path d="M149.35 298.92L159.4 297.16L151.69 291.32L141.64 293.71 Z" fill="#007dcf"/><path d="M121.54 297.92L131.59 295.79L123.88 290.62L113.83 292.15 Z" fill="#0086cb"/><path d="M139.3 300.9L149.35 298.92L141.64 293.71L131.59 295.79 Z" fill="#0082cd"/><path d="M157.06 303.9L167.11 302.74L159.4 297.16L149.35 298.92 Z" fill="#007dcf"/><path d="M111.49 300.56L121.54 297.92L113.83 292.15L103.78 294.2 Z" fill="#0086cb"/><path d="M129.25 303.17L139.3 300.9L131.59 295.79L121.54 297.92 Z" fill="#0082cd"/><path d="M147.01 305.7L157.06 303.9L149.35 298.92L139.3 300.9 Z" fill="#007dcf"/><path d="M164.77 308.25L174.82 307.28L167.11 302.74L157.06 303.9 Z" fill="#0079d1"/><path d="M101.44 304.23L111.49 300.56L103.78 294.2L93.73 298.33 Z" fill="#0086cb"/><path d="M119.2 305.9L129.25 303.17L121.54 297.92L111.49 300.56 Z" fill="#0086cb"/><path d="M136.96 307.97L147.01 305.7L139.3 300.9L129.25 303.17 Z" fill="#0082cd"/><path d="M154.72 310.05L164.77 308.25L157.06 303.9L147.01 305.7 Z" fill="#007dcf"/><path d="M172.48 311.77L182.53 310.26L174.82 307.28L164.77 308.25 Z" fill="#007dcf"/><path d="M91.39 308.83L101.44 304.23L93.73 298.33L83.68 304.28 Z" fill="#0082cd"/><path d="M109.15 309.22L119.2 305.9L111.49 300.56L101.44 304.23 Z" fill="#0082cd"/><path d="M126.91 310.67L136.96 307.97L129.25 303.17L119.2 305.9 Z" fill="#0082cd"/><path d="M144.67 312.36L154.72 310.05L147.01 305.7L136.96 307.97 Z" fill="#0082cd"/><path d="M81.34 313.81L91.39 308.83L83.68 304.28L73.63 311.53 Z" fill="#007dcf"/><path d="M162.43 313.9L172.48 311.77L164.77 308.25L154.72 310.05 Z" fill="#007dcf"/><path d="M180.19 314.67L190.24 311.94L182.53 310.26L172.48 311.77 Z" fill="#007dcf"/><path d="M99.1 313.07L109.15 309.22L101.44 304.23L91.39 308.83 Z" fill="#0082cd"/><path d="M71.29 318.02L81.34 313.81L73.63 311.53L63.58 316.44 Z" fill="#0079d1"/><path d="M116.86 313.81L126.91 310.67L119.2 305.9L109.15 309.22 Z" fill="#0082cd"/><path d="M134.62 315.11L144.67 312.36L136.96 307.97L126.91 310.67 Z" fill="#0082cd"/><path d="M152.38 316.45L162.43 313.9L154.72 310.05L144.67 312.36 Z" fill="#0082cd"/><path d="M89.05 317.2L99.1 313.07L91.39 308.83L81.34 313.81 Z" fill="#007dcf"/><path d="M170.14 317.44L180.19 314.67L172.48 311.77L162.43 313.9 Z" fill="#0082cd"/><path d="M61.24 321.17L71.29 318.02L63.58 316.44L53.53 319.01 Z" fill="#0079d1"/><path d="M106.81 317.43L116.86 313.81L109.15 309.22L99.1 313.07 Z" fill="#0082cd"/><path d="M187.9 317.63L197.95 313.88L190.24 311.94L180.19 314.67 Z" fill="#0082cd"/><path d="M124.57 318.37L134.62 315.11L126.91 310.67L116.86 313.81 Z" fill="#0082cd"/><path d="M79 321.15L89.05 317.2L81.34 313.81L71.29 318.02 Z" fill="#007dcf"/><path d="M142.33 319.51L152.38 316.45L144.67 312.36L134.62 315.11 Z" fill="#0082cd"/><path d="M160.09 320.5L170.14 317.44L162.43 313.9L152.38 316.45 Z" fill="#0082cd"/><path d="M96.76 321.43L106.81 317.43L99.1 313.07L89.05 317.2 Z" fill="#007dcf"/><path d="M51.19 323.34L61.24 321.17L53.53 319.01L43.48 320.8 Z" fill="#007dcf"/><path d="M177.85 321.08L187.9 317.63L180.19 314.67L170.14 317.44 Z" fill="#0082cd"/><path d="M114.52 322.19L124.57 318.37L116.86 313.81L106.81 317.43 Z" fill="#007dcf"/><path d="M68.95 324.33L79 321.15L71.29 318.02L61.24 321.17 Z" fill="#007dcf"/><path d="M132.28 323.18L142.33 319.51L134.62 315.11L124.57 318.37 Z" fill="#007dcf"/><path d="M195.61 321.2L205.66 317.12L197.95 313.88L187.9 317.63 Z" fill="#0082cd"/><path d="M150.04 324.12L160.09 320.5L152.38 316.45L142.33 319.51 Z" fill="#007dcf"/><path d="M86.71 325.14L96.76 321.43L89.05 317.2L79 321.15 Z" fill="#007dcf"/><path d="M167.8 324.78L177.85 321.08L170.14 317.44L160.09 320.5 Z" fill="#007dcf"/><path d="M104.47 326.01L114.52 322.19L106.81 317.43L96.76 321.43 Z" fill="#007dcf"/><path d="M41.14 324.34L51.19 323.34L43.48 320.8L33.43 322.07 Z" fill="#0082cd"/><path d="M122.23 326.99L132.28 323.18L124.57 318.37L114.52 322.19 Z" fill="#007dcf"/><path d="M58.9 326.19L68.95 324.33L61.24 321.17L51.19 323.34 Z" fill="#0082cd"/><path d="M185.56 325.14L195.61 321.2L187.9 317.63L177.85 321.08 Z" fill="#0082cd"/><path d="M139.99 327.91L150.04 324.12L142.33 319.51L132.28 323.18 Z" fill="#007dcf"/><path d="M76.66 327.72L86.71 325.14L79 321.15L68.95 324.33 Z" fill="#007dcf"/><path d="M203.32 325.42L213.37 321.14L205.66 317.12L195.61 321.2 Z" fill="#0082cd"/><path d="M157.75 328.59L167.8 324.78L160.09 320.5L150.04 324.12 Z" fill="#007dcf"/><path d="M94.42 328.88L104.47 326.01L96.76 321.43L86.71 325.14 Z" fill="#007dcf"/><path d="M112.18 329.95L122.23 326.99L114.52 322.19L104.47 326.01 Z" fill="#007dcf"/><path d="M175.51 329L185.56 325.14L177.85 321.08L167.8 324.78 Z" fill="#007dcf"/><path d="M31.09 324.24L41.14 324.34L33.43 322.07L23.38 322.82 Z" fill="#008ac9"/><path d="M48.85 326.72L58.9 326.19L51.19 323.34L41.14 324.34 Z" fill="#0086cb"/><path d="M129.94 330.93L139.99 327.91L132.28 323.18L122.23 326.99 Z" fill="#007dcf"/><path d="M193.27 329.37L203.32 325.42L195.61 321.2L185.56 325.14 Z" fill="#0082cd"/><path d="M66.61 329.14L76.66 327.72L68.95 324.33L58.9 326.19 Z" fill="#0082cd"/><path d="M147.7 331.69L157.75 328.59L150.04 324.12L139.99 327.91 Z" fill="#007dcf"/><path d="M84.37 330.6L94.42 328.88L86.71 325.14L76.66 327.72 Z" fill="#0082cd"/><path d="M211.03 330.02L221.08 325.68L213.37 321.14L203.32 325.42 Z" fill="#0082cd"/><path d="M165.46 332.16L175.51 329L167.8 324.78L157.75 328.59 Z" fill="#007dcf"/><path d="M102.13 331.74L112.18 329.95L104.47 326.01L94.42 328.88 Z" fill="#0082cd"/><path d="M183.22 332.53L193.27 329.37L185.56 325.14L175.51 329 Z" fill="#0082cd"/><path d="M119.89 332.79L129.94 330.93L122.23 326.99L112.18 329.95 Z" fill="#0082cd"/><path d="M38.8 326.18L48.85 326.72L41.14 324.34L31.09 324.24 Z" fill="#008ec7"/><path d="M137.65 333.69L147.7 331.69L139.99 327.91L129.94 330.93 Z" fill="#0082cd"/><path d="M200.98 333.3L211.03 330.02L203.32 325.42L193.27 329.37 Z" fill="#0082cd"/><path d="M56.56 329.97L66.61 329.14L58.9 326.19L48.85 326.72 Z" fill="#008ac9"/><path d="M74.32 331.67L84.37 330.6L76.66 327.72L66.61 329.14 Z" fill="#0086cb"/><path d="M155.41 334.31L165.46 332.16L157.75 328.59L147.7 331.69 Z" fill="#0082cd"/><path d="M218.74 334.79L228.79 331.26L221.08 325.68L211.03 330.02 Z" fill="#007dcf"/><path d="M92.08 332.7L102.13 331.74L94.42 328.88L84.37 330.6 Z" fill="#0086cb"/><path d="M173.17 334.7L183.22 332.53L175.51 329L165.46 332.16 Z" fill="#0082cd"/><path d="M109.84 333.72L119.89 332.79L112.18 329.95L102.13 331.74 Z" fill="#0086cb"/><path d="M190.93 335.36L200.98 333.3L193.27 329.37L183.22 332.53 Z" fill="#0082cd"/><path d="M127.6 334.73L137.65 333.69L129.94 330.93L119.89 332.79 Z" fill="#0086cb"/><path d="M208.69 337.21L218.74 334.79L211.03 330.02L200.98 333.3 Z" fill="#0082cd"/><path d="M46.51 332.02L56.56 329.97L48.85 326.72L38.8 326.18 Z" fill="#008ac9"/><path d="M145.36 335.57L155.41 334.31L147.7 331.69L137.65 333.69 Z" fill="#0086cb"/><path d="M64.27 333.12L74.32 331.67L66.61 329.14L56.56 329.97 Z" fill="#008ac9"/><path d="M226.45 339.67L236.5 336.32L228.79 331.26L218.74 334.79 Z" fill="#007dcf"/><path d="M82.03 333.53L92.08 332.7L84.37 330.6L74.32 331.67 Z" fill="#008ac9"/><path d="M163.12 336.12L173.17 334.7L165.46 332.16L155.41 334.31 Z" fill="#0086cb"/><path d="M99.79 334.24L109.84 333.72L102.13 331.74L92.08 332.7 Z" fill="#008ec7"/><path d="M180.88 336.58L190.93 335.36L183.22 332.53L173.17 334.7 Z" fill="#0086cb"/><path d="M117.55 335.21L127.6 334.73L119.89 332.79L109.84 333.72 Z" fill="#008ac9"/><path d="M198.64 338.06L208.69 337.21L200.98 333.3L190.93 335.36 Z" fill="#0086cb"/><path d="M216.4 342.5L226.45 339.67L218.74 334.79L208.69 337.21 Z" fill="#007dcf"/><path d="M54.22 338.38L64.27 333.12L56.56 329.97L46.51 332.02 Z" fill="#0086cb"/><path d="M135.31 336.25L145.36 335.57L137.65 333.69L127.6 334.73 Z" fill="#008ac9"/><path d="M71.98 336.03L82.03 333.53L74.32 331.67L64.27 333.12 Z" fill="#008ec7"/><path d="M153.07 337.13L163.12 336.12L155.41 334.31L145.36 335.57 Z" fill="#008ac9"/><path d="M89.74 336.07L99.79 334.24L92.08 332.7L82.03 333.53 Z" fill="#008ec7"/><path d="M170.83 337.66L180.88 336.58L173.17 334.7L163.12 336.12 Z" fill="#008ec7"/><path d="M107.5 336.89L117.55 335.21L109.84 333.72L99.79 334.24 Z" fill="#008ec7"/><path d="M188.59 338.3L198.64 338.06L190.93 335.36L180.88 336.58 Z" fill="#008ec7"/><path d="M206.35 342.47L216.4 342.5L208.69 337.21L198.64 338.06 Z" fill="#0086cb"/><path d="M61.93 342.14L71.98 336.03L64.27 333.12L54.22 338.38 Z" fill="#0086cb"/><path d="M125.26 338.01L135.31 336.25L127.6 334.73L117.55 335.21 Z" fill="#008ec7"/><path d="M143.02 339.2L153.07 337.13L145.36 335.57L135.31 336.25 Z" fill="#008ec7"/><path d="M79.69 340.16L89.74 336.07L82.03 333.53L71.98 336.03 Z" fill="#008ec7"/><path d="M160.78 340.08L170.83 337.66L163.12 336.12L153.07 337.13 Z" fill="#008ec7"/><path d="M97.45 341.05L107.5 336.89L99.79 334.24L89.74 336.07 Z" fill="#008ec7"/><path d="M178.54 340.22L188.59 338.3L180.88 336.58L170.83 337.66 Z" fill="#0092c5"/><path d="M115.21 342.34L125.26 338.01L117.55 335.21L107.5 336.89 Z" fill="#008ac9"/><path d="M196.3 341.92L206.35 342.47L198.64 338.06L188.59 338.3 Z" fill="#008ec7"/><path d="M69.64 344.86L79.69 340.16L71.98 336.03L61.93 342.14 Z" fill="#008ac9"/><path d="M132.97 343.72L143.02 339.2L135.31 336.25L125.26 338.01 Z" fill="#008ac9"/><path d="M150.73 344.95L160.78 340.08L153.07 337.13L143.02 339.2 Z" fill="#008ac9"/><path d="M87.4 345.76L97.45 341.05L89.74 336.07L79.69 340.16 Z" fill="#008ac9"/><path d="M168.49 345.25L178.54 340.22L170.83 337.66L160.78 340.08 Z" fill="#008ac9"/><path d="M105.16 347.66L115.21 342.34L107.5 336.89L97.45 341.05 Z" fill="#0086cb"/><path d="M122.92 349.3L132.97 343.72L125.26 338.01L115.21 342.34 Z" fill="#0086cb"/><path d="M186.25 344.49L196.3 341.92L188.59 338.3L178.54 340.22 Z" fill="#008ec7"/><path d="M140.68 350.88L150.73 344.95L143.02 339.2L132.97 343.72 Z" fill="#0082cd"/><path d="M77.35 348.62L87.4 345.76L79.69 340.16L69.64 344.86 Z" fill="#008ac9"/><path d="M158.44 351.82L168.49 345.25L160.78 340.08L150.73 344.95 Z" fill="#0082cd"/><path d="M95.11 351.89L105.16 347.66L97.45 341.05L87.4 345.76 Z" fill="#0082cd"/><path d="M112.87 353.82L122.92 349.3L115.21 342.34L105.16 347.66 Z" fill="#0082cd"/><path d="M176.2 350.96L186.25 344.49L178.54 340.22L168.49 345.25 Z" fill="#0086cb"/><path d="M130.63 355.76L140.68 350.88L132.97 343.72L122.92 349.3 Z" fill="#007dcf"/><path d="M148.39 357.57L158.44 351.82L150.73 344.95L140.68 350.88 Z" fill="#007dcf"/><path d="M85.06 355.24L95.11 351.89L87.4 345.76L77.35 348.62 Z" fill="#0082cd"/><path d="M166.15 358.21L176.2 350.96L168.49 345.25L158.44 351.82 Z" fill="#007dcf"/><path d="M102.82 357.2L112.87 353.82L105.16 347.66L95.11 351.89 Z" fill="#0082cd"/><path d="M120.58 359.19L130.63 355.76L122.92 349.3L112.87 353.82 Z" fill="#007dcf"/><path d="M138.34 361.71L148.39 357.57L140.68 350.88L130.63 355.76 Z" fill="#0079d1"/><path d="M156.1 364.16L166.15 358.21L158.44 351.82L148.39 357.57 Z" fill="#0075d3"/><path d="M92.77 360.3L102.82 357.2L95.11 351.89L85.06 355.24 Z" fill="#0082cd"/><path d="M110.53 362.12L120.58 359.19L112.87 353.82L102.82 357.2 Z" fill="#007dcf"/><path d="M128.29 364.3L138.34 361.71L130.63 355.76L120.58 359.19 Z" fill="#0079d1"/><path d="M146.05 368.55L156.1 364.16L148.39 357.57L138.34 361.71 Z" fill="#0071d5"/><path d="M100.48 365.36L110.53 362.12L102.82 357.2L92.77 360.3 Z" fill="#007dcf"/><path d="M118.24 366.6L128.29 364.3L120.58 359.19L110.53 362.12 Z" fill="#007dcf"/><path d="M136 369.56L146.05 368.55L138.34 361.71L128.29 364.3 Z" fill="#0079d1"/><path d="M108.19 369.9L118.24 366.6L110.53 362.12L100.48 365.36 Z" fill="#007dcf"/><path d="M125.95 370.05L136 369.56L128.29 364.3L118.24 366.6 Z" fill="#007dcf"/><path d="M115.9 374.44L125.95 370.05L118.24 366.6L108.19 369.9 Z" fill="#0079d1"/></g>
<g font-family='"Liberation Sans", Arial, sans-serif' font-size="6.3" fill="#262626" stroke="#262626" stroke-width="0.15"><text transform="translate(19.28 377.46) scale(0.9 1)" text-anchor="end">0</text><text transform="translate(19.28 364.26) scale(0.9 1)" text-anchor="end">0.5</text><text transform="translate(19.28 351.06) scale(0.9 1)" text-anchor="end">1</text><text transform="translate(19.28 337.86) scale(0.9 1)" text-anchor="end">1.5</text><text transform="translate(19.28 324.66) scale(0.9 1)" text-anchor="end">2</text><text transform="translate(19.28 311.46) scale(0.9 1)" text-anchor="end">2.5</text><text transform="translate(19.28 298.26) scale(0.9 1)" text-anchor="end">3</text><text transform="translate(19.28 285.06) scale(0.9 1)" text-anchor="end">3.5</text><text transform="translate(19.28 271.86) scale(0.9 1)" text-anchor="end">4</text><text transform="translate(119.5 433.7) scale(0.9 1)">0</text><text transform="translate(139.6 427.52) scale(0.9 1)">2</text><text transform="translate(159.7 421.34) scale(0.9 1)">4</text><text transform="translate(179.8 415.16) scale(0.9 1)">6</text><text transform="translate(199.9 408.98) scale(0.9 1)">8</text><text transform="translate(220 402.8) scale(0.9 1)">10</text><text transform="translate(240.1 396.62) scale(0.9 1)">12</text><text transform="translate(111.2 432.7) scale(0.9 1)" text-anchor="end">0</text><text transform="translate(95.78 424.66) scale(0.9 1)" text-anchor="end">2</text><text transform="translate(80.36 416.62) scale(0.9 1)" text-anchor="end">4</text><text transform="translate(64.94 408.58) scale(0.9 1)" text-anchor="end">6</text><text transform="translate(49.52 400.54) scale(0.9 1)" text-anchor="end">8</text><text transform="translate(34.1 392.5) scale(0.9 1)" text-anchor="end">10</text><text transform="translate(18.68 384.46) scale(0.9 1)" text-anchor="end">12</text><text transform="translate(49.9 435) scale(0.9 1)" text-anchor="middle">V-coordinate</text><text transform="translate(187.5 437.7) scale(0.9 1)" text-anchor="middle">U-coordinate</text><text transform="translate(8 325.1) rotate(-90)" font-size="5.75" text-anchor="middle">Mean(GTWR-β1)</text></g>
<defs><linearGradient id="g139823474104400" x1="0" y1="1" x2="0" y2="0"><stop offset="0" stop-color="#0000ff"/><stop offset="0.1" stop-color="#001af7"/><stop offset="0.2" stop-color="#0033ee"/><stop offset="0.3" stop-color="#004ce5"/><stop offset="0.4" stop-color="#0066da"/><stop offset="0.5" stop-color="#0080ce"/><stop offset="0.6" stop-color="#0099c1"/><stop offset="0.7" stop-color="#00b2b2"/><stop offset="0.8" stop-color="#00cca2"/><stop offset="0.9" stop-color="#00e691"/><stop offset="1" stop-color="#00ff80"/></linearGradient></defs>
<rect x="245" y="235.1" width="11" height="190.7" fill="url(#g139823474104400)" stroke="#000" stroke-opacity="0.25" stroke-width="0.5"/>
<path d="M245 425.8h2M256 425.8h-2M245 401.96h2M256 401.96h-2M245 378.12h2M256 378.12h-2M245 354.29h2M256 354.29h-2M245 330.45h2M256 330.45h-2M245 306.61h2M256 306.61h-2M245 282.77h2M256 282.77h-2M245 258.94h2M256 258.94h-2M245 235.1h2M256 235.1h-2" stroke="#1a1a1a" stroke-width="0.55" fill="none" opacity="0.75"/>
<g font-family='"Liberation Sans", Arial, sans-serif' font-size="6.3" fill="#262626" stroke="#262626" stroke-width="0.15"><text transform="translate(257.4 428.2) scale(0.9 1)">0</text><text transform="translate(257.4 404.36) scale(0.9 1)">0.5</text><text transform="translate(257.4 380.52) scale(0.9 1)">1</text><text transform="translate(257.4 356.69) scale(0.9 1)">1.5</text><text transform="translate(257.4 332.85) scale(0.9 1)">2</text><text transform="translate(257.4 309.01) scale(0.9 1)">2.5</text><text transform="translate(257.4 285.17) scale(0.9 1)">3</text><text transform="translate(257.4 261.34) scale(0.9 1)">3.5</text><text transform="translate(257.4 237.5) scale(0.9 1)">4</text></g>
<text transform="translate(134.3 455.7) scale(1.02 1.07)" font-family='"Liberation Serif", serif' font-size="15" fill="#000" text-anchor="middle">(<tspan font-weight="bold">c</tspan>)</text>
<path d="M397.7 425.4L304.94 377.16M304.94 377.16L304.94 271.56M417.76 419.24L325 371M325 371L325 265.4M437.82 413.08L345.06 364.84M345.06 364.84L345.06 259.24M457.88 406.92L365.12 358.68M365.12 358.68L365.12 253.08M477.94 400.76L385.18 352.52M385.18 352.52L385.18 246.92M498 394.6L405.24 346.36M405.24 346.36L405.24 240.76M518.06 388.44L425.3 340.2M425.3 340.2L425.3 234.6M397.7 425.4L518.06 388.44M518.06 388.44L518.06 282.84M382.24 417.36L502.6 380.4M502.6 380.4L502.6 274.8M366.78 409.32L487.14 372.36M487.14 372.36L487.14 266.76M351.32 401.28L471.68 364.32M471.68 364.32L471.68 258.72M335.86 393.24L456.22 356.28M456.22 356.28L456.22 250.68M320.4 385.2L440.76 348.24M440.76 348.24L440.76 242.64M304.94 377.16L425.3 340.2M425.3 340.2L425.3 234.6M304.94 377.16L425.3 340.2M425.3 340.2L518.06 388.44M304.94 363.96L425.3 327M425.3 327L518.06 375.24M304.94 350.76L425.3 313.8M425.3 313.8L518.06 362.04M304.94 337.56L425.3 300.6M425.3 300.6L518.06 348.84M304.94 324.36L425.3 287.4M425.3 287.4L518.06 335.64M304.94 311.16L425.3 274.2M425.3 274.2L518.06 322.44M304.94 297.96L425.3 261M425.3 261L518.06 309.24M304.94 284.76L425.3 247.8M425.3 247.8L518.06 296.04M304.94 271.56L425.3 234.6M425.3 234.6L518.06 282.84" stroke="#e3e3e3" stroke-width="0.6" fill="none"/>
<path d="M304.94 377.16L304.94 271.56M397.7 425.4L518.06 388.44M397.7 425.4L304.94 377.16M304.94 377.16L301.81 375.53M304.94 363.96L301.81 362.33M304.94 350.76L301.81 349.13M304.94 337.56L301.81 335.93M304.94 324.36L301.81 322.73M304.94 311.16L301.81 309.53M304.94 297.96L301.81 296.33M304.94 284.76L301.81 283.13M304.94 271.56L301.81 269.93M397.7 425.4L401.18 427.21M417.76 419.24L421.24 421.05M437.82 413.08L441.3 414.89M457.88 406.92L461.36 408.73M477.94 400.76L481.42 402.57M498 394.6L501.48 396.41M518.06 388.44L521.54 390.25M397.7 425.4L392.28 427.06M382.24 417.36L376.82 419.02M366.78 409.32L361.36 410.98M351.32 401.28L345.9 402.94M335.86 393.24L330.44 394.9M320.4 385.2L314.98 386.86M304.94 377.16L299.52 378.82" stroke="#8c8c8c" stroke-width="0.75" fill="none"/>
<g stroke="#023456" stroke-width="0.6" stroke-linejoin="round"><path d="M423 294.5L433.03 291.42L425.3 287.4L415.27 290.48 Z" fill="#0082cd"/><path d="M412.97 297.58L423 294.5L415.27 290.48L405.24 293.56 Z" fill="#0082cd"/><path d="M430.73 298.52L440.76 295.44L433.03 291.42L423 294.5 Z" fill="#0082cd"/><path d="M402.94 300.66L412.97 297.58L405.24 293.56L395.21 296.64 Z" fill="#0082cd"/><path d="M420.7 301.6L430.73 298.52L423 294.5L412.97 297.58 Z" fill="#0082cd"/><path d="M438.46 302.54L448.49 299.46L440.76 295.44L430.73 298.52 Z" fill="#0082cd"/><path d="M392.91 303.74L402.94 300.66L395.21 296.64L385.18 299.72 Z" fill="#0082cd"/><path d="M410.67 304.68L420.7 301.6L412.97 297.58L402.94 300.66 Z" fill="#0082cd"/><path d="M428.43 305.62L438.46 302.54L430.73 298.52L420.7 301.6 Z" fill="#0082cd"/><path d="M446.19 306.56L456.22 303.48L448.49 299.46L438.46 302.54 Z" fill="#0082cd"/><path d="M382.88 306.82L392.91 303.74L385.18 299.72L375.15 302.8 Z" fill="#0082cd"/><path d="M400.64 307.76L410.67 304.68L402.94 300.66L392.91 303.74 Z" fill="#0082cd"/><path d="M418.4 308.7L428.43 305.62L420.7 301.6L410.67 304.68 Z" fill="#0082cd"/><path d="M436.16 309.64L446.19 306.56L438.46 302.54L428.43 305.62 Z" fill="#0082cd"/><path d="M372.85 309.9L382.88 306.82L375.15 302.8L365.12 305.88 Z" fill="#0082cd"/><path d="M453.92 310.58L463.95 307.5L456.22 303.48L446.19 306.56 Z" fill="#0082cd"/><path d="M390.61 310.84L400.64 307.76L392.91 303.74L382.88 306.82 Z" fill="#0082cd"/><path d="M408.37 311.78L418.4 308.7L410.67 304.68L400.64 307.76 Z" fill="#0082cd"/><path d="M426.13 312.72L436.16 309.64L428.43 305.62L418.4 308.7 Z" fill="#0082cd"/><path d="M362.82 312.98L372.85 309.9L365.12 305.88L355.09 308.96 Z" fill="#0082cd"/><path d="M443.89 313.66L453.92 310.58L446.19 306.56L436.16 309.64 Z" fill="#0082cd"/><path d="M380.58 313.92L390.61 310.84L382.88 306.82L372.85 309.9 Z" fill="#0082cd"/><path d="M461.65 314.6L471.68 311.52L463.95 307.5L453.92 310.58 Z" fill="#0082cd"/><path d="M398.34 314.86L408.37 311.78L400.64 307.76L390.61 310.84 Z" fill="#0082cd"/><path d="M416.1 315.8L426.13 312.72L418.4 308.7L408.37 311.78 Z" fill="#0082cd"/><path d="M352.79 316.06L362.82 312.98L355.09 308.96L345.06 312.04 Z" fill="#0082cd"/><path d="M433.86 316.74L443.89 313.66L436.16 309.64L426.13 312.72 Z" fill="#0082cd"/><path d="M370.55 317L380.58 313.92L372.85 309.9L362.82 312.98 Z" fill="#0082cd"/><path d="M451.62 317.68L461.65 314.6L453.92 310.58L443.89 313.66 Z" fill="#0082cd"/><path d="M388.31 317.94L398.34 314.86L390.61 310.84L380.58 313.92 Z" fill="#0082cd"/><path d="M469.38 318.62L479.41 315.54L471.68 311.52L461.65 314.6 Z" fill="#0082cd"/><path d="M406.07 318.88L416.1 315.8L408.37 311.78L398.34 314.86 Z" fill="#0082cd"/><path d="M342.76 319.14L352.79 316.06L345.06 312.04L335.03 315.12 Z" fill="#0082cd"/><path d="M423.83 319.82L433.86 316.74L426.13 312.72L416.1 315.8 Z" fill="#0082cd"/><path d="M360.52 320.08L370.55 317L362.82 312.98L352.79 316.06 Z" fill="#0082cd"/><path d="M441.59 320.76L451.62 317.68L443.89 313.66L433.86 316.74 Z" fill="#0082cd"/><path d="M378.28 321.02L388.31 317.94L380.58 313.92L370.55 317 Z" fill="#0082cd"/><path d="M459.35 321.7L469.38 318.62L461.65 314.6L451.62 317.68 Z" fill="#0082cd"/><path d="M396.04 321.96L406.07 318.88L398.34 314.86L388.31 317.94 Z" fill="#0082cd"/><path d="M332.73 322.22L342.76 319.14L335.03 315.12L325 318.2 Z" fill="#0082cd"/><path d="M477.11 322.64L487.14 319.56L479.41 315.54L469.38 318.62 Z" fill="#0082cd"/><path d="M413.8 322.9L423.83 319.82L416.1 315.8L406.07 318.88 Z" fill="#0082cd"/><path d="M350.49 323.16L360.52 320.08L352.79 316.06L342.76 319.14 Z" fill="#0082cd"/><path d="M431.56 323.84L441.59 320.76L433.86 316.74L423.83 319.82 Z" fill="#0082cd"/><path d="M368.25 324.1L378.28 321.02L370.55 317L360.52 320.08 Z" fill="#0082cd"/><path d="M449.32 324.78L459.35 321.7L451.62 317.68L441.59 320.76 Z" fill="#0082cd"/><path d="M386.01 325.04L396.04 321.96L388.31 317.94L378.28 321.02 Z" fill="#0082cd"/><path d="M322.7 325.3L332.73 322.22L325 318.2L314.97 321.28 Z" fill="#0082cd"/><path d="M467.08 325.72L477.11 322.64L469.38 318.62L459.35 321.7 Z" fill="#0082cd"/><path d="M403.77 325.98L413.8 322.9L406.07 318.88L396.04 321.96 Z" fill="#0082cd"/><path d="M340.46 326.24L350.49 323.16L342.76 319.14L332.73 322.22 Z" fill="#0082cd"/><path d="M484.84 326.66L494.87 323.58L487.14 319.56L477.11 322.64 Z" fill="#0082cd"/><path d="M421.53 326.92L431.56 323.84L423.83 319.82L413.8 322.9 Z" fill="#0082cd"/><path d="M358.22 327.18L368.25 324.1L360.52 320.08L350.49 323.16 Z" fill="#0082cd"/><path d="M439.29 327.86L449.32 324.78L441.59 320.76L431.56 323.84 Z" fill="#0082cd"/><path d="M375.98 328.12L386.01 325.04L378.28 321.02L368.25 324.1 Z" fill="#0082cd"/><path d="M312.67 328.38L322.7 325.3L314.97 321.28L304.94 324.36 Z" fill="#0082cd"/><path d="M457.05 328.8L467.08 325.72L459.35 321.7L449.32 324.78 Z" fill="#0082cd"/><path d="M393.74 329.06L403.77 325.98L396.04 321.96L386.01 325.04 Z" fill="#0082cd"/><path d="M330.43 329.32L340.46 326.24L332.73 322.22L322.7 325.3 Z" fill="#0082cd"/><path d="M474.81 329.74L484.84 326.66L477.11 322.64L467.08 325.72 Z" fill="#0082cd"/><path d="M411.5 330L421.53 326.92L413.8 322.9L403.77 325.98 Z" fill="#0082cd"/><path d="M348.19 330.26L358.22 327.18L350.49 323.16L340.46 326.24 Z" fill="#0082cd"/><path d="M492.57 330.68L502.6 327.6L494.87 323.58L484.84 326.66 Z" fill="#0082cd"/><path d="M429.26 330.94L439.29 327.86L431.56 323.84L421.53 326.92 Z" fill="#0082cd"/><path d="M365.95 331.2L375.98 328.12L368.25 324.1L358.22 327.18 Z" fill="#0082cd"/><path d="M447.02 331.88L457.05 328.8L449.32 324.78L439.29 327.86 Z" fill="#0082cd"/><path d="M383.71 332.14L393.74 329.06L386.01 325.04L375.98 328.12 Z" fill="#0082cd"/><path d="M320.4 332.4L330.43 329.32L322.7 325.3L312.67 328.38 Z" fill="#0082cd"/><path d="M464.78 332.82L474.81 329.74L467.08 325.72L457.05 328.8 Z" fill="#0082cd"/><path d="M401.47 333.08L411.5 330L403.77 325.98L393.74 329.06 Z" fill="#0082cd"/><path d="M338.16 333.34L348.19 330.26L340.46 326.24L330.43 329.32 Z" fill="#0082cd"/><path d="M482.54 333.76L492.57 330.68L484.84 326.66L474.81 329.74 Z" fill="#0082cd"/><path d="M419.23 334.02L429.26 330.94L421.53 326.92L411.5 330 Z" fill="#0082cd"/><path d="M355.92 334.28L365.95 331.2L358.22 327.18L348.19 330.26 Z" fill="#0082cd"/><path d="M500.3 334.7L510.33 331.62L502.6 327.6L492.57 330.68 Z" fill="#0082cd"/><path d="M436.99 334.96L447.02 331.88L439.29 327.86L429.26 330.94 Z" fill="#0082cd"/><path d="M373.68 335.22L383.71 332.14L375.98 328.12L365.95 331.2 Z" fill="#0082cd"/><path d="M454.75 335.9L464.78 332.82L457.05 328.8L447.02 331.88 Z" fill="#0082cd"/><path d="M391.44 336.16L401.47 333.08L393.74 329.06L383.71 332.14 Z" fill="#0082cd"/><path d="M328.13 336.42L338.16 333.34L330.43 329.32L320.4 332.4 Z" fill="#0082cd"/><path d="M472.51 336.84L482.54 333.76L474.81 329.74L464.78 332.82 Z" fill="#0082cd"/><path d="M409.2 337.1L419.23 334.02L411.5 330L401.47 333.08 Z" fill="#0082cd"/><path d="M345.89 337.36L355.92 334.28L348.19 330.26L338.16 333.34 Z" fill="#0082cd"/><path d="M490.27 337.78L500.3 334.7L492.57 330.68L482.54 333.76 Z" fill="#0082cd"/><path d="M426.96 338.04L436.99 334.96L429.26 330.94L419.23 334.02 Z" fill="#0082cd"/><path d="M363.65 338.3L373.68 335.22L365.95 331.2L355.92 334.28 Z" fill="#0082cd"/><path d="M508.03 338.72L518.06 335.64L510.33 331.62L500.3 334.7 Z" fill="#0082cd"/><path d="M444.72 338.98L454.75 335.9L447.02 331.88L436.99 334.96 Z" fill="#0082cd"/><path d="M381.41 339.24L391.44 336.16L383.71 332.14L373.68 335.22 Z" fill="#0082cd"/><path d="M462.48 339.92L472.51 336.84L464.78 332.82L454.75 335.9 Z" fill="#0082cd"/><path d="M399.17 340.18L409.2 337.1L401.47 333.08L391.44 336.16 Z" fill="#0082cd"/><path d="M335.86 340.44L345.89 337.36L338.16 333.34L328.13 336.42 Z" fill="#0082cd"/><path d="M480.24 340.86L490.27 337.78L482.54 333.76L472.51 336.84 Z" fill="#0082cd"/><path d="M416.93 341.12L426.96 338.04L419.23 334.02L409.2 337.1 Z" fill="#0082cd"/><path d="M353.62 341.38L363.65 338.3L355.92 334.28L345.89 337.36 Z" fill="#0082cd"/><path d="M498 341.8L508.03 338.72L500.3 334.7L490.27 337.78 Z" fill="#0082cd"/><path d="M434.69 342.06L444.72 338.98L436.99 334.96L426.96 338.04 Z" fill="#0082cd"/><path d="M371.38 342.32L381.41 339.24L373.68 335.22L363.65 338.3 Z" fill="#0082cd"/><path d="M452.45 343L462.48 339.92L454.75 335.9L444.72 338.98 Z" fill="#0082cd"/><path d="M389.14 343.26L399.17 340.18L391.44 336.16L381.41 339.24 Z" fill="#0082cd"/><path d="M470.21 343.94L480.24 340.86L472.51 336.84L462.48 339.92 Z" fill="#0082cd"/><path d="M406.9 344.2L416.93 341.12L409.2 337.1L399.17 340.18 Z" fill="#0082cd"/><path d="M343.59 344.46L353.62 341.38L345.89 337.36L335.86 340.44 Z" fill="#0082cd"/><path d="M487.97 344.88L498 341.8L490.27 337.78L480.24 340.86 Z" fill="#0082cd"/><path d="M424.66 345.14L434.69 342.06L426.96 338.04L416.93 341.12 Z" fill="#0082cd"/><path d="M361.35 345.4L371.38 342.32L363.65 338.3L353.62 341.38 Z" fill="#0082cd"/><path d="M442.42 346.08L452.45 343L444.72 338.98L434.69 342.06 Z" fill="#0082cd"/><path d="M379.11 346.34L389.14 343.26L381.41 339.24L371.38 342.32 Z" fill="#0082cd"/><path d="M460.18 347.02L470.21 343.94L462.48 339.92L452.45 343 Z" fill="#0082cd"/><path d="M396.87 347.28L406.9 344.2L399.17 340.18L389.14 343.26 Z" fill="#0082cd"/><path d="M477.94 347.96L487.97 344.88L480.24 340.86L470.21 343.94 Z" fill="#0082cd"/><path d="M414.63 348.22L424.66 345.14L416.93 341.12L406.9 344.2 Z" fill="#0082cd"/><path d="M351.32 348.48L361.35 345.4L353.62 341.38L343.59 344.46 Z" fill="#0082cd"/><path d="M432.39 349.16L442.42 346.08L434.69 342.06L424.66 345.14 Z" fill="#0082cd"/><path d="M369.08 349.42L379.11 346.34L371.38 342.32L361.35 345.4 Z" fill="#0082cd"/><path d="M450.15 350.1L460.18 347.02L452.45 343L442.42 346.08 Z" fill="#0082cd"/><path d="M386.84 350.36L396.87 347.28L389.14 343.26L379.11 346.34 Z" fill="#0082cd"/><path d="M467.91 351.04L477.94 347.96L470.21 343.94L460.18 347.02 Z" fill="#0082cd"/><path d="M404.6 351.3L414.63 348.22L406.9 344.2L396.87 347.28 Z" fill="#0082cd"/><path d="M422.36 352.24L432.39 349.16L424.66 345.14L414.63 348.22 Z" fill="#0082cd"/><path d="M359.05 352.5L369.08 349.42L361.35 345.4L351.32 348.48 Z" fill="#0082cd"/><path d="M440.12 353.18L450.15 350.1L442.42 346.08L432.39 349.16 Z" fill="#0082cd"/><path d="M376.81 353.44L386.84 350.36L379.11 346.34L369.08 349.42 Z" fill="#0082cd"/><path d="M457.88 354.12L467.91 351.04L460.18 347.02L450.15 350.1 Z" fill="#0082cd"/><path d="M394.57 354.38L404.6 351.3L396.87 347.28L386.84 350.36 Z" fill="#0082cd"/><path d="M412.33 355.32L422.36 352.24L414.63 348.22L404.6 351.3 Z" fill="#0082cd"/><path d="M430.09 356.26L440.12 353.18L432.39 349.16L422.36 352.24 Z" fill="#0082cd"/><path d="M366.78 356.52L376.81 353.44L369.08 349.42L359.05 352.5 Z" fill="#0082cd"/><path d="M447.85 357.2L457.88 354.12L450.15 350.1L440.12 353.18 Z" fill="#0082cd"/><path d="M384.54 357.46L394.57 354.38L386.84 350.36L376.81 353.44 Z" fill="#0082cd"/><path d="M402.3 358.4L412.33 355.32L404.6 351.3L394.57 354.38 Z" fill="#0082cd"/><path d="M420.06 359.34L430.09 356.26L422.36 352.24L412.33 355.32 Z" fill="#0082cd"/><path d="M437.82 360.28L447.85 357.2L440.12 353.18L430.09 356.26 Z" fill="#0082cd"/><path d="M374.51 360.54L384.54 357.46L376.81 353.44L366.78 356.52 Z" fill="#0082cd"/><path d="M392.27 361.48L402.3 358.4L394.57 354.38L384.54 357.46 Z" fill="#0082cd"/><path d="M410.03 362.42L420.06 359.34L412.33 355.32L402.3 358.4 Z" fill="#0082cd"/><path d="M427.79 363.36L437.82 360.28L430.09 356.26L420.06 359.34 Z" fill="#0082cd"/><path d="M382.24 364.56L392.27 361.48L384.54 357.46L374.51 360.54 Z" fill="#0082cd"/><path d="M400 365.5L410.03 362.42L402.3 358.4L392.27 361.48 Z" fill="#0082cd"/><path d="M417.76 366.44L427.79 363.36L420.06 359.34L410.03 362.42 Z" fill="#0082cd"/><path d="M389.97 368.58L400 365.5L392.27 361.48L382.24 364.56 Z" fill="#0082cd"/><path d="M407.73 369.52L417.76 366.44L410.03 362.42L400 365.5 Z" fill="#0082cd"/><path d="M397.7 372.6L407.73 369.52L400 365.5L389.97 368.58 Z" fill="#0082cd"/></g>
<g font-family='"Liberation Sans", Arial, sans-serif' font-size="6.3" fill="#262626" stroke="#262626" stroke-width="0.15"><text transform="translate(300.84 377.46) scale(0.9 1)" text-anchor="end">0</text><text transform="translate(300.84 364.26) scale(0.9 1)" text-anchor="end">0.5</text><text transform="translate(300.84 351.06) scale(0.9 1)" text-anchor="end">1</text><text transform="translate(300.84 337.86) scale(0.9 1)" text-anchor="end">1.5</text><text transform="translate(300.84 324.66) scale(0.9 1)" text-anchor="end">2</text><text transform="translate(300.84 311.46) scale(0.9 1)" text-anchor="end">2.5</text><text transform="translate(300.84 298.26) scale(0.9 1)" text-anchor="end">3</text><text transform="translate(300.84 285.06) scale(0.9 1)" text-anchor="end">3.5</text><text transform="translate(300.84 271.86) scale(0.9 1)" text-anchor="end">4</text><text transform="translate(401.3 433.7) scale(0.9 1)">0</text><text transform="translate(421.36 427.54) scale(0.9 1)">2</text><text transform="translate(441.42 421.38) scale(0.9 1)">4</text><text transform="translate(461.48 415.22) scale(0.9 1)">6</text><text transform="translate(481.54 409.06) scale(0.9 1)">8</text><text transform="translate(501.6 402.9) scale(0.9 1)">10</text><text transform="translate(521.66 396.74) scale(0.9 1)">12</text><text transform="translate(393 432.7) scale(0.9 1)" text-anchor="end">0</text><text transform="translate(377.54 424.66) scale(0.9 1)" text-anchor="end">2</text><text transform="translate(362.08 416.62) scale(0.9 1)" text-anchor="end">4</text><text transform="translate(346.62 408.58) scale(0.9 1)" text-anchor="end">6</text><text transform="translate(331.16 400.54) scale(0.9 1)" text-anchor="end">8</text><text transform="translate(315.7 392.5) scale(0.9 1)" text-anchor="end">10</text><text transform="translate(300.24 384.46) scale(0.9 1)" text-anchor="end">12</text><text transform="translate(332 435) scale(0.9 1)" text-anchor="middle">V-coordinate</text><text transform="translate(469.2 437.7) scale(0.9 1)" text-anchor="middle">U-coordinate</text><text transform="translate(289.5 325.4) rotate(-90)" font-size="5.75" text-anchor="middle">Mean(MGTWR-β1)</text></g>
<defs><linearGradient id="g139823474104016" x1="0" y1="1" x2="0" y2="0"><stop offset="0" stop-color="#0000ff"/><stop offset="0.1" stop-color="#001af7"/><stop offset="0.2" stop-color="#0033ee"/><stop offset="0.3" stop-color="#004ce5"/><stop offset="0.4" stop-color="#0066da"/><stop offset="0.5" stop-color="#0080ce"/><stop offset="0.6" stop-color="#0099c1"/><stop offset="0.7" stop-color="#00b2b2"/><stop offset="0.8" stop-color="#00cca2"/><stop offset="0.9" stop-color="#00e691"/><stop offset="1" stop-color="#00ff80"/></linearGradient></defs>
<rect x="526.5" y="235.2" width="10.5" height="190.6" fill="url(#g139823474104016)" stroke="#000" stroke-opacity="0.25" stroke-width="0.5"/>
<path d="M526.5 425.8h2M537 425.8h-2M526.5 401.98h2M537 401.98h-2M526.5 378.15h2M537 378.15h-2M526.5 354.32h2M537 354.32h-2M526.5 330.5h2M537 330.5h-2M526.5 306.68h2M537 306.68h-2M526.5 282.85h2M537 282.85h-2M526.5 259.02h2M537 259.02h-2M526.5 235.2h2M537 235.2h-2" stroke="#1a1a1a" stroke-width="0.55" fill="none" opacity="0.75"/>
<g font-family='"Liberation Sans", Arial, sans-serif' font-size="6.3" fill="#262626" stroke="#262626" stroke-width="0.15"><text transform="translate(538.4 428.2) scale(0.9 1)">0</text><text transform="translate(538.4 404.38) scale(0.9 1)">0.5</text><text transform="translate(538.4 380.55) scale(0.9 1)">1</text><text transform="translate(538.4 356.72) scale(0.9 1)">1.5</text><text transform="translate(538.4 332.9) scale(0.9 1)">2</text><text transform="translate(538.4 309.07) scale(0.9 1)">2.5</text><text transform="translate(538.4 285.25) scale(0.9 1)">3</text><text transform="translate(538.4 261.42) scale(0.9 1)">3.5</text><text transform="translate(538.4 237.6) scale(0.9 1)">4</text></g>
<text transform="translate(415.5 455.7) scale(1.02 1.07)" font-family='"Liberation Serif", serif' font-size="15" fill="#000" text-anchor="middle">(<tspan font-weight="bold">d</tspan>)</text>
</svg>
</body></html>
